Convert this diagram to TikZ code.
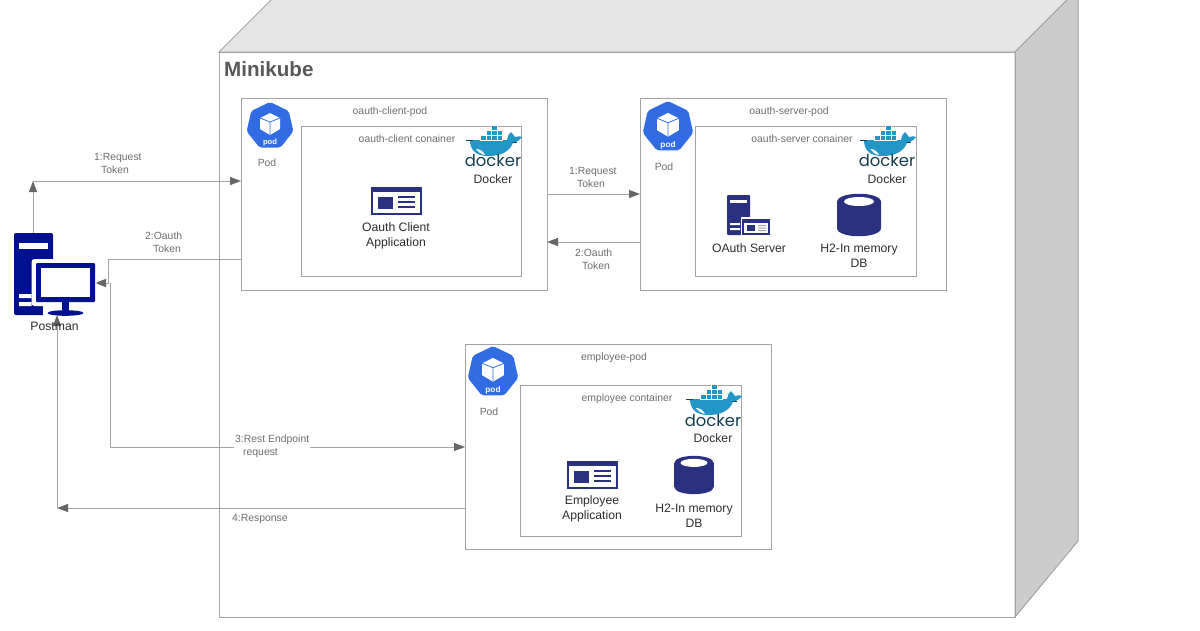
\documentclass[tikz,border=0pt]{standalone}
\usepackage{fontspec}
\setmainfont{Liberation Sans}
\newfontfamily\dockerfont{Poppins}
\usepackage{tikz}
\usetikzlibrary{arrows.meta,positioning}
\definecolor{podblue}{HTML}{326CE5}
\definecolor{whaleblue}{HTML}{2396C8}
\definecolor{whaledark}{HTML}{16404F}
\definecolor{iconnavy}{HTML}{2A3180}
\definecolor{pcnavy}{HTML}{00108F}
\definecolor{linegrey}{HTML}{A3A3A3}
\definecolor{headgrey}{HTML}{666666}
\definecolor{labelgrey}{HTML}{6E6E6E}
\definecolor{textdark}{HTML}{2E2E2E}
\tikzset{
  podbox/.style={draw=linegrey, line width=.9pt, inner sep=0pt, outer sep=0pt, anchor=north west},
  flow/.style={draw=linegrey, line width=1pt},
  flowtip/.style={flow, -{Triangle[length=11pt,width=8pt,color=headgrey]}},
  msg/.style={text=labelgrey, font=\fontsize{10.4}{13}\selectfont, align=left, anchor=west, inner sep=0pt},
  tag/.style={text=labelgrey, font=\fontsize{10.4}{13}\selectfont, inner sep=0pt},
  iconlabel/.style={text=textdark, font=\fontsize{12.2}{14.6}\selectfont, align=center, inner sep=0pt},
  podicon/.pic={
    \fill[podblue, rounded corners=2pt] (-90:24) -- (-38.6:24) -- (12.9:24) -- (64.3:24)
      -- (115.7:24) -- (167.1:24) -- (218.6:24) -- cycle;
    \fill[white] (0,-13) -- (10,-8) -- (10,3) -- (0,9) -- (-10,3) -- (-10,-8) -- cycle;
    \draw[podblue, line width=.8pt] (-10,-8) -- (0,-4) -- (10,-8) (0,-4) -- (0,9);
    \node[text=white, font=\bfseries\fontsize{7.6}{8}\selectfont, inner sep=0pt, transform shape] at (0,17) {pod};
  },
  dockericon/.pic={
    \fill[whaleblue] (-23,-8) -- (14,-8) .. controls (15,-12) and (16,-15) .. (18,-16)
      .. controls (20,-14) and (21,-12) .. (22,-11) .. controls (25,-12) and (28,-12) .. (29,-11)
      .. controls (26,-7) and (23,-6) .. (20,-5) .. controls (16,4) and (8,8) .. (-5,8)
      .. controls (-17,8) and (-23,2) .. (-23,-8) -- cycle;
    \fill[white] (-17,1) .. controls (-13,1) and (-10,3) .. (-8,7) .. controls (-12,6) and (-15,4) .. (-17,1) -- cycle;
    \foreach \bx/\by in {-12.5/-13,-7/-13,-1.5/-13,4/-13,-7/-18,-1.5/-18,4/-18,-1.5/-23}
      \fill[whaleblue, draw=white, line width=.25pt] (\bx,\by) rectangle +(5.5,5);
    \draw[whaledark, line width=.5pt] (-27,-8) -- (-20,-8) (20,-6) -- (24,-6);
    \node[text=whaledark, font=\dockerfont\fontsize{16.4}{18}\selectfont, inner sep=0pt] at (0,13) {docker};
  },
  appicon/.pic={
    \fill[iconnavy] (-25.5,-14) rectangle (25.5,13.5);
    \fill[white] (-23.5,-9) rectangle (23.5,11.5);
    \fill[iconnavy] (-18,-4) rectangle (-3,8);
    \foreach \ly in {-4,1,6}
      \fill[iconnavy] (2,\ly-.8) rectangle (19,\ly+.8);
  },
  servericon/.pic={
    \fill[iconnavy, rounded corners=1pt] (-21,-20) rectangle (2,20);
    \fill[white] (-18,-15) rectangle (-1,-12.5);
    \fill[white] (-18,8) rectangle (-8,10) (-18,13) rectangle (-8,15);
    \fill[white] (-7,2) rectangle (23,21);
    \fill[iconnavy] (-6,4) rectangle (22,20);
    \fill[white] (-4,8) rectangle (20,18);
    \fill[iconnavy] (-1,10) rectangle (7,16);
    \fill[linegrey] (10,10) rectangle (18,11) (10,12.5) rectangle (18,13.5) (10,15) rectangle (18,16);
  },
  dbicon/.pic={
    \fill[iconnavy] (-22,-13) .. controls (-22,-24) and (22,-24) .. (22,-13) -- (22,13)
      .. controls (22,24) and (-22,24) .. (-22,13) -- cycle;
    \fill[white] (0,-13.5) ellipse (15 and 4.5);
  },
  pcicon/.pic={
    \fill[pcnavy, rounded corners=2pt] (-40.5,-41) rectangle (-1.5,41);
    \fill[white] (-35.5,-31) rectangle (-6.5,-25);
    \fill[white, rounded corners=3pt] (-23,-15) rectangle (42,32);
    \fill[white] (-35.5,20) rectangle (-23,24) (-35.5,28) rectangle (-23,32);
    \fill[white] (-12,32) -- (-12,41.5) -- (42,41.5) -- (42,32) -- cycle;
    \fill[pcnavy, rounded corners=1pt] (-18.5,-11) rectangle (40.5,28);
    \fill[white] (-13.5,-6) rectangle (35.5,23);
    \fill[pcnavy] (7.5,28) rectangle (14.5,38);
    \fill[pcnavy] (11,39) ellipse (18 and 2.8);
  }
}
\begin{document}
\begin{tikzpicture}[x=1pt, y=-1pt]
\useasboundingbox (0,0) rectangle (1200,630);
\clip (0,0) rectangle (1200,630);
%
\fill[white] (0,0) rectangle (1200,630);
\filldraw[fill=black!10, draw=linegrey, line width=1pt] (219,52) -- (282,-11) -- (1078,-11) -- (1015,52) -- cycle;
\filldraw[fill=black!20, draw=linegrey, line width=1pt] (1015,52) -- (1078,-11) -- (1078,541) -- (1015,617) -- cycle;
\node (minikube) [draw=linegrey, line width=1pt, inner sep=0pt, outer sep=0pt, anchor=north west,
  minimum width=796pt, minimum height=565pt] at (219,52) {};
\node (minikubelabel) [text=black!65, font=\bfseries\fontsize{20.6}{24}\selectfont, anchor=west, inner sep=0pt] at (224,69) {Minikube};
%
\node (clientpod) [podbox, minimum width=306pt, minimum height=192pt] at (241,98) {};
\node (clientcon) [podbox, minimum width=220pt, minimum height=150pt] at (301,126) {};
\node (serverpod) [podbox, minimum width=306pt, minimum height=192pt] at (640,98) {};
\node (servercon) [podbox, minimum width=221pt, minimum height=150pt] at (695,126) {};
\node (employeepod) [podbox, minimum width=306pt, minimum height=205pt] at (465,344) {};
\node (employeecon) [podbox, minimum width=221pt, minimum height=151pt] at (520,385) {};
\node (postman) [minimum width=81pt, minimum height=82pt, inner sep=0pt, outer sep=0pt] at (54.5,274) {};
%
\coordinate (reqturn) at (33,181);
\coordinate (tokturn) at (108,259);
\coordinate (pcin) at (95,283);
\coordinate (restturn) at (110,447);
\coordinate (respturn) at (57,508);
\coordinate (reqmid) at (0,194);
\coordinate (tokmid) at (0,242);
%
\draw[flowtip] (reqturn |- postman.north) -- (reqturn);
\draw[flowtip] (reqturn) -- (reqturn -| clientpod.west);
\draw[flowtip] (tokturn -| clientpod.west) -- (tokturn) -- (tokturn |- pcin) -- (pcin);
\draw[flowtip] (restturn |- pcin) -- (restturn) -- (restturn -| employeepod.west);
\draw[flowtip] (respturn -| employeepod.west) -- (respturn);
\draw[flowtip] (reqmid -| clientpod.east) -- (reqmid -| serverpod.west);
\draw[flowtip] (tokmid -| serverpod.west) -- (tokmid -| clientpod.east);
%
\pic at (54.5,274) {pcicon};
\draw[flowtip] (respturn) -- (respturn |- postman.south);
\node (postmanlabel) [iconlabel, below=6.5pt of postman] {Postman};
%
\pic at (270,126) {podicon};
\node (clientpodlabel) [tag] at (267,163) {Pod};
\node (clientname) [tag] at (390,112) {oauth-client-pod};
\node (clientconname) [tag] at (407,139) {oauth-client conainer};
\pic at (493,148) {dockericon};
\node (clientdocker) [iconlabel] at (493,179) {Docker};
\pic at (396,201) {appicon};
\node (clientapp) [iconlabel] at (396,236) {Oauth Client\\Application};
%
\pic[scale=1.08] at (668,127) {podicon};
\node (serverpodlabel) [tag] at (664,167) {Pod};
\node (servername) [tag] at (789,112) {oauth-server-pod};
\node (serverconname) [tag] at (802,139) {oauth-server conainer};
\pic at (887,148) {dockericon};
\node (serverdocker) [iconlabel] at (887,179) {Docker};
\pic at (748,215) {servericon};
\node (serverapp) [iconlabel] at (749,248) {OAuth Server};
\pic at (859,215) {dbicon};
\node (serverdb) [iconlabel] at (859,256) {H2-In memory\\DB};
%
\pic[scale=1.08] at (493,372) {podicon};
\node (employeepodlabel) [tag] at (489,412) {Pod};
\node (employeename) [tag] at (614,358) {employee-pod};
\node (employeeconname) [tag] at (627,399) {employee container};
\pic at (713,407) {dockericon};
\node (employeedocker) [iconlabel] at (713,438) {Docker};
\pic at (592,475) {appicon};
\node (employeeapp) [iconlabel] at (592,509) {Employee\\Application};
\pic[scale=.9] at (694,475) {dbicon};
\node (employeedb) [iconlabel] at (694,516) {H2-In memory\\DB};
%
\node (msgreqa) [msg] at (94,163.5) {1:Request\\\hspace*{7pt}Token};
\node (msgtoka) [msg] at (145,242.5) {2:Oauth\\\hspace*{8pt}Token};
\node (msgreqb) [msg] at (569,177.5) {1:Request\\\hspace*{8pt}Token};
\node (msgtokb) [msg] at (575,259) {2:Oauth\\\hspace*{7pt}Token};
\node (msgrest) [msg, fill=white, inner sep=1pt] at (234,446.5) {3:Rest Endpoint\\\hspace*{8pt}request};
\node (msgresp) [msg] at (232,518.5) {4:Response};
\end{tikzpicture}
\end{document}
